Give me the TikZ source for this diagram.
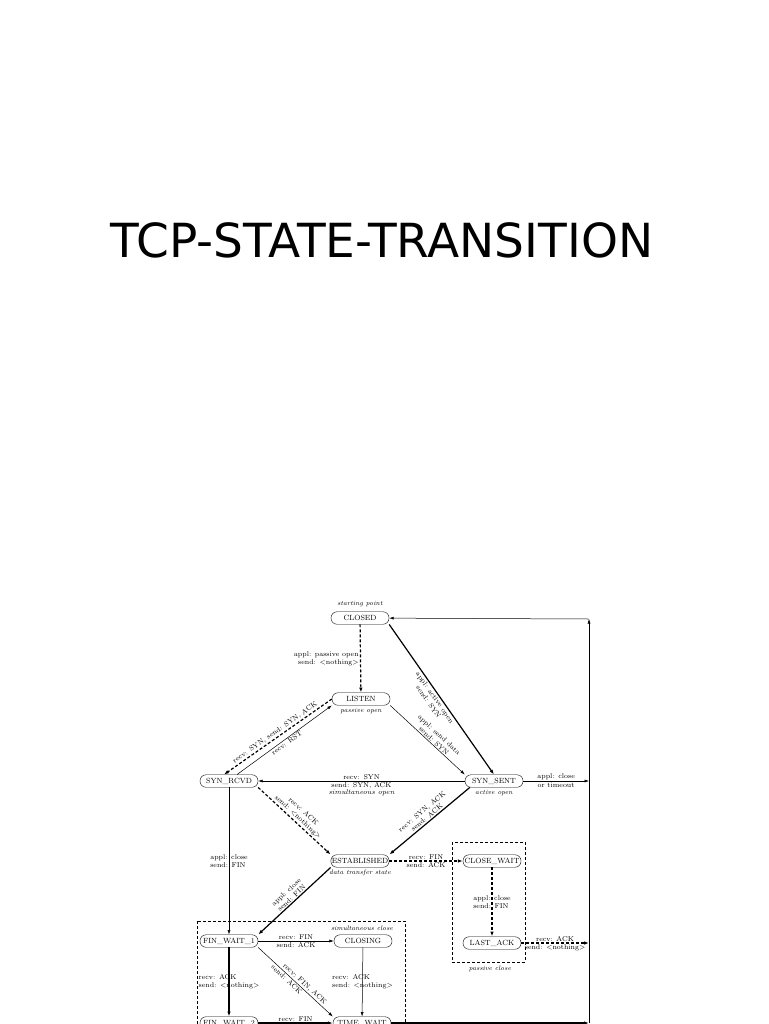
\documentclass[tikz,border=0pt]{standalone}
\usepackage{fontspec}
\newfontfamily\titlefont{DejaVu Sans}
\usetikzlibrary{arrows.meta}

\begin{document}
\begin{tikzpicture}[x=1pt, y=-1pt,
    state/.style={draw, rounded corners=6pt, minimum width=58pt, minimum height=12.5pt, inner sep=1pt, font=\fontsize{7.5}{8}\selectfont},
    lbl/.style={font=\fontsize{7}{7.8}\selectfont, inner sep=1.2pt, align=center},
    note/.style={font=\fontsize{6.5}{7}\itshape\selectfont, inner sep=0pt},
    cli/.style={draw, line width=1.2pt, -{Latex[length=5pt,width=3.5pt]}},
    srv/.style={draw, line width=1.2pt, dash pattern=on 3pt off 2pt, -{Latex[length=5pt,width=3.5pt]}},
    oth/.style={draw, line width=0.5pt, -{Latex[length=4.5pt,width=3pt]}},
    box/.style={draw, line width=0.8pt, dash pattern=on 3pt off 2pt}]
    \useasboundingbox (0,0) rectangle (768,1024);
    \clip (0,0) rectangle (768,1024);

    \node[font=\titlefont\fontsize{47}{56}\selectfont] (title) at (382,240) {TCP-STATE-TRANSITION};

    \node[state] (closed) at (360,618) {CLOSED};
    \node[state] (listen) at (361,699) {LISTEN};
    \node[state] (synrcvd) at (229,781) {SYN\_RCVD};
    \node[state] (synsent) at (494,781) {SYN\_SENT};
    \node[state] (estab) at (360,861) {ESTABLISHED};
    \node[state] (closewait) at (492,861) {CLOSE\_WAIT};
    \node[state] (lastack) at (492,943) {LAST\_ACK};
    \node[state] (finwait1) at (229,941) {FIN\_WAIT\_1};
    \node[state] (closing) at (363,941) {CLOSING};
    \node[state] (finwait2) at (229,1023) {FIN\_WAIT\_2};
    \node[state] (timewait) at (362,1023) {TIME\_WAIT};

    \node[note] (n1) at (360,604) {starting point};
    \node[note] (n2) at (361,711) {passive open};
    \node[note] (n3) at (494,793) {active open};
    \node[note] (n4) at (360,873) {data transfer state};
    \node[note] (n5) at (362,928) {simultaneous close};
    \node[note] (n6) at (490,969) {passive close};

    \coordinate (ne) at (589,619);
    \coordinate (j1) at (589,781);
    \coordinate (j2) at (589,943);
    \coordinate (se) at (589,1023);

    \path[box] (452,842) rectangle (525,962);
    \path[box, line width=0.5pt] (197,921) rectangle (405,1040);

    \path[srv] (closed) -- node[lbl, left, align=right] {appl: passive open\\send: <nothing>} (listen);
    \path[cli] (closed.south east) -- node[lbl, sloped, below, pos=0.47] {appl: active open\\send: SYN} (synsent.north);
    \path[srv] (listen.west) -- node[lbl, sloped, above] {recv: SYN, send: SYN, ACK} ([xshift=-5pt]synrcvd.north);
    \path[oth] ([xshift=8pt]synrcvd.north) -- node[lbl, sloped, below] {recv: RST} (listen.south west);
    \path[oth] (listen.south east) -- node[lbl, sloped, above, pos=0.55] {appl: send data\\send: SYN} (synsent.north west);
    \path[oth] (synsent) -- node[lbl, above] {recv: SYN} node[lbl, below, align=center] {send: SYN, ACK\\[-1pt]\itshape simultaneous open} (synrcvd);
    \path[srv] (synrcvd.south east) -- node[lbl, sloped, above] {recv: ACK\\send: <nothing>} (estab.north west);
    \path[cli] ([xshift=5pt]synsent.south west) -- node[lbl, sloped, above] {recv: SYN, ACK\\send: ACK} (estab.north east);
    \path[oth] (synsent) -- node[lbl, above] {appl: close} node[lbl, below] {or timeout} (j1);
    \path[oth] (synrcvd) -- node[lbl, align=left] {appl: close\\send: FIN} (finwait1);
    \path[cli] (estab.south west) -- node[lbl, sloped, above] {appl: close\\send: FIN} (finwait1.north east);
    \path[srv] (estab) -- node[lbl, above] {recv: FIN} node[lbl, below] {send: ACK} (closewait);
    \path[srv] (closewait) -- node[lbl, align=left] {appl: close\\send: FIN} (lastack);
    \path[srv] (lastack) -- node[lbl, above] {recv: ACK} node[lbl, below] {send: <nothing>} (j2);
    \path[oth] (finwait1) -- node[lbl, above] {recv: FIN} node[lbl, below] {send: ACK} (closing);
    \path[cli] (finwait1) -- node[lbl, align=left] {recv: ACK\\send: <nothing>} (finwait2);
    \path[oth] (closing) -- node[lbl, align=left] {recv: ACK\\send: <nothing>} (timewait);
    \path[oth] (finwait1.south east) -- node[lbl, sloped, above, pos=0.58] {recv: FIN, ACK} node[lbl, sloped, below, pos=0.42] {send: ACK} (timewait.north west);
    \path[cli] (finwait2) -- node[lbl, above] {recv: FIN} (timewait);
    \path[cli] (timewait) -- (se);
    \path[oth] (se) -- (ne);
    \path[oth] (ne) -- (closed);
\end{tikzpicture}
\end{document}
